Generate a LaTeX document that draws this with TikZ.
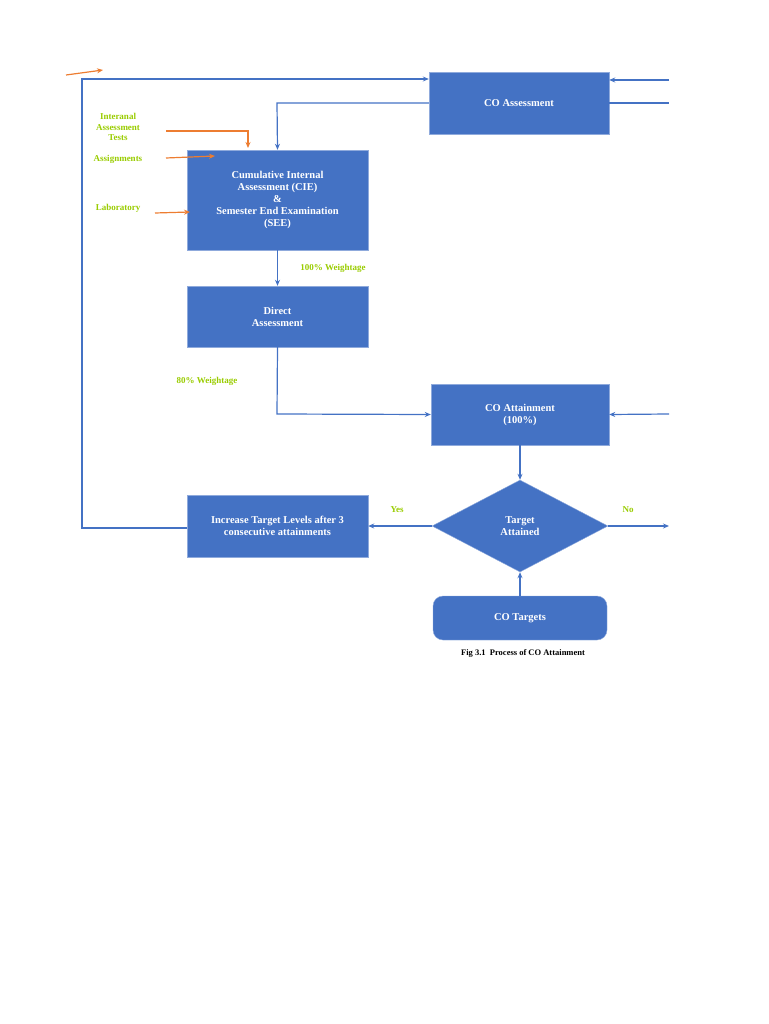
\documentclass[tikz,border=0pt]{standalone}
\usepackage{fontspec}
\setmainfont{Liberation Serif}
\usetikzlibrary{arrows.meta, shapes.geometric}
\definecolor{boxblue}{HTML}{4472C4}
\definecolor{arrorange}{HTML}{ED7D31}
\definecolor{lblgreen}{HTML}{99CC00}
\tikzset{
  box/.style={fill=boxblue, draw=boxblue!60, text=white, font=\bfseries\fontsize{10.5}{12}\selectfont, align=center, inner sep=0pt},
  flow/.style={draw=boxblue, line width=1.2pt, -{Stealth[length=6pt,width=5pt]}},
  plain/.style={draw=boxblue, line width=1.2pt},
  oarr/.style={draw=arrorange, line width=1.2pt, -{Stealth[length=6pt,width=5pt]}},
  lbl/.style={text=lblgreen, font=\bfseries\fontsize{9}{10.5}\selectfont, align=center, inner sep=0pt}
}
\begin{document}
\begin{tikzpicture}[x=1pt,y=-1pt]
\useasboundingbox (0,0) rectangle (768,1024);
% boxes
\node[box, minimum width=180pt, minimum height=62pt] (coa) at (519,103) {CO Assessment};
\node[box, minimum width=181pt, minimum height=100pt] (cie) at (277.5,200) {Cumulative Internal\\Assessment (CIE)\\\&\\Semester End Examination\\(SEE)};
\node[box, minimum width=181pt, minimum height=61pt] (dir) at (277.5,316.5) {Direct\\Assessment};
\node[box, minimum width=178pt, minimum height=61pt] (att) at (520,414.5) {CO Attainment\\(100\%)};
\node[box, diamond, minimum width=176pt, minimum height=92pt, aspect=1.9] (tgt) at (520,526) {Target\\Attained};
\node[box, minimum width=181pt, minimum height=62pt] (inc) at (277.5,526) {Increase Target Levels after 3\\consecutive attainments};
\node[box, rounded corners=10pt, minimum width=174pt, minimum height=44pt] (cot) at (520,618) {CO Targets};
\node[font=\bfseries\fontsize{8.5}{10}\selectfont, inner sep=0pt] (cap) at (523,653) {Fig 3.1\ \ Process of CO Attainment};
% green labels
\node[lbl] (lt) at (118,127) {Interanal\\Assessment\\Tests};
\node[lbl] (la) at (118,159) {Assignments};
\node[lbl] (ll) at (118,208) {Laboratory};
\node[lbl] (w1) at (333,268) {100\% Weightage};
\node[lbl] (w2) at (207,381) {80\% Weightage};
\node[lbl] (yes) at (397,510) {Yes};
\node[lbl] (no) at (628,510) {No};
% coordinates
\coordinate (i1) at (669,80);
\coordinate (i2) at (669,103);
\coordinate (i3) at (669,414);
\coordinate (o1) at (669,526);
\coordinate (f1) at (82,528);
\coordinate (f2) at (82,79);
\coordinate (t1) at (66,75);
\coordinate (t2) at (103,70);
% connectors
\draw[flow] (inc.west |- f1) -- (f1) -- (f2) -- (coa.west |- f2);
\draw[flow] (i1) -- (coa.east |- i1);
\draw[plain] (coa.east |- i2) -- (i2);
\draw[flow] (coa.west |- i2) -- (277,103) -- (cie.north);
\draw[flow] (cie.south) -- (dir.north);
\draw[flow] (dir.south) -- (277,414) -- (att.west);
\draw[flow] (i3) -- (att.east);
\draw[flow] (att.south) -- (tgt.north);
\draw[flow] (tgt.west) -- (inc.east);
\draw[flow] (tgt.east) -- (o1);
\draw[flow] (cot.north) -- (tgt.south);
% orange
\draw[oarr] (t1) -- (t2);
\draw[oarr] (166,131) -- (248,131) -- (248,148);
\draw[oarr] (166,158) -- (215,156);
\draw[oarr] (155,213) -- (190,212);
\end{tikzpicture}
\end{document}
